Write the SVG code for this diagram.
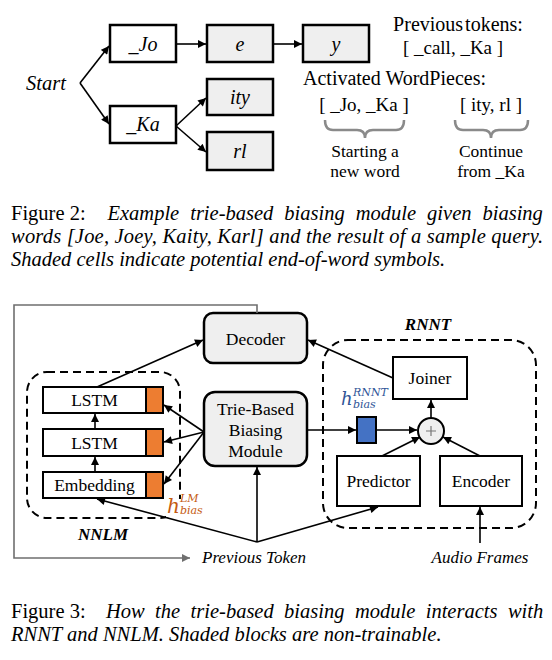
<svg xmlns="http://www.w3.org/2000/svg" width="552" height="660" viewBox="0 0 552 660" font-family="'Liberation Serif', 'Times New Roman', serif">
<defs>
<style>
.t{font-family:"Liberation Serif","Times New Roman",serif;fill:#000}
.i{font-style:italic}
.b{font-weight:bold}
.box{fill:#fff;stroke:#000;stroke-width:2.5}
.sh{fill:#efefef;stroke:#000;stroke-width:2.5}
.ln{fill:none;stroke:#000;stroke-width:1.6;marker-end:url(#ah)}
.gl{fill:none;stroke:#6f6f6f;stroke-width:1.6;marker-end:url(#ahg)}
.dash{fill:none;stroke:#000;stroke-width:2;stroke-dasharray:8 5}
.brace{fill:none;stroke:#8a8a8a;stroke-width:2.5}
.m{font-family:"DejaVu Serif",serif;font-style:italic}
</style>
<marker id="ah" viewBox="0 0 10 10" refX="10" refY="5" markerWidth="9" markerHeight="8" markerUnits="userSpaceOnUse" orient="auto"><path d="M0,0 L10,5 L0,10 z" fill="#000"/></marker>
<marker id="ahg" viewBox="0 0 10 10" refX="10" refY="5" markerWidth="9" markerHeight="8" markerUnits="userSpaceOnUse" orient="auto"><path d="M0,0 L10,5 L0,10 z" fill="#6f6f6f"/></marker>
</defs>
<rect width="552" height="660" fill="#fff"/>

<!-- Figure 2 trie -->
<g id="start"><text class="t i" x="26" y="90" font-size="20.5">Start</text></g>
<g id="node-jo"><rect class="box" x="110" y="25" width="66" height="37"/><text class="t i" x="143" y="51" font-size="20" text-anchor="middle">_Jo</text></g>
<g id="node-e"><rect class="sh" x="207" y="25" width="66" height="37"/><text class="t i" x="240" y="51" font-size="20" text-anchor="middle">e</text></g>
<g id="node-y"><rect class="sh" x="303" y="25" width="66" height="37"/><text class="t i" x="336" y="51" font-size="20" text-anchor="middle">y</text></g>
<g id="node-ka"><rect class="box" x="110" y="106" width="66" height="37"/><text class="t i" x="143" y="131" font-size="20" text-anchor="middle">_Ka</text></g>
<g id="node-ity"><rect class="sh" x="207" y="79" width="66" height="36"/><text class="t i" x="240" y="104" font-size="20" text-anchor="middle">ity</text></g>
<g id="node-rl"><rect class="sh" x="207" y="132" width="66" height="38"/><text class="t i" x="240" y="158" font-size="20" text-anchor="middle">rl</text></g>
<g id="trie-connectors">
<path class="ln" d="M80,83 L109,46"/>
<path class="ln" d="M80,83 L109,124"/>
<path class="ln" d="M176,44 H206"/>
<path class="ln" d="M273,44 H302"/>
<path class="ln" d="M176,126 L206,98"/>
<path class="ln" d="M176,126 L206,152"/>
</g>
<g id="legend">
<text class="t" x="458" y="31" font-size="20" text-anchor="middle" word-spacing="-3">Previous tokens:</text>
<text class="t" x="453" y="54" font-size="19" text-anchor="middle">[ _call, _Ka ]</text>
<text class="t" x="303" y="85" font-size="20">Activated WordPieces:</text>
<text class="t" x="364" y="111" font-size="19" text-anchor="middle">[ _Jo, _Ka ]</text>
<text class="t" x="491" y="111" font-size="19" text-anchor="middle">[ ity, rl ]</text>
<path class="brace" d="M325,120 Q325,130 333,130 H357 Q365,130 365,138 Q365,130 373,130 H396 Q404,130 404,120"/>
<path class="brace" d="M455,120 Q455,130 463,130 H483 Q491,130 491,138 Q491,130 499,130 H520 Q528,130 528,120"/>
<text class="t" x="365" y="157" font-size="17.5" text-anchor="middle">Starting a</text>
<text class="t" x="365" y="177" font-size="17.5" text-anchor="middle">new word</text>
<text class="t" x="491" y="157" font-size="17.5" text-anchor="middle">Continue</text>
<text class="t" x="491" y="177" font-size="17.5" text-anchor="middle">from _Ka</text>
</g>

<g id="caption2" font-size="20.5">
<text class="t" y="220"><tspan x="11">Figure 2:</tspan><tspan class="i" x="107.5">Example</tspan><tspan class="i" x="190.2">trie-based</tspan><tspan class="i" x="284.3">biasing</tspan><tspan class="i" x="355.7">module</tspan><tspan class="i" x="427.1">given</tspan><tspan class="i" x="482.5">biasing</tspan></text>
<text class="t i" x="11" y="243" textLength="532" lengthAdjust="spacing">words [Joe, Joey, Kaity, Karl] and the result of a sample query.</text>
<text class="t i" x="11" y="266">Shaded cells indicate potential end-of-word symbols.</text>
</g>

<!-- Figure 3 -->
<g id="nnlm-group">
<rect class="dash" x="27" y="372" width="153" height="146" rx="20"/>
<text class="t i b" x="103" y="540" font-size="17" text-anchor="middle">NNLM</text>
</g>
<g id="rnnt-group">
<rect class="dash" x="323" y="340" width="213" height="188" rx="25"/>
<text class="t i b" x="428" y="330" font-size="17" text-anchor="middle">RNNT</text>
</g>
<g id="decoder"><rect class="sh" x="204" y="313" width="103" height="50" rx="9"/><text class="t" x="255.5" y="345" font-size="17.5" text-anchor="middle">Decoder</text></g>
<g id="trie-module"><rect class="sh" x="204" y="392" width="103" height="74" rx="11"/>
<text class="t" x="255.5" y="415" font-size="17.5" text-anchor="middle">Trie-Based</text>
<text class="t" x="255.5" y="436" font-size="17.5" text-anchor="middle">Biasing</text>
<text class="t" x="255.5" y="457" font-size="17.5" text-anchor="middle">Module</text></g>
<g id="lstm1"><rect x="43" y="387" width="120" height="26" fill="#fff" stroke="#000" stroke-width="2"/><rect x="146" y="387" width="17" height="26" fill="#ed7d31" stroke="#000" stroke-width="2"/><text class="t" x="94.5" y="406" font-size="17.5" text-anchor="middle">LSTM</text></g>
<g id="lstm2"><rect x="43" y="429" width="120" height="27" fill="#fff" stroke="#000" stroke-width="2"/><rect x="146" y="429" width="17" height="27" fill="#ed7d31" stroke="#000" stroke-width="2"/><text class="t" x="94.5" y="449" font-size="17.5" text-anchor="middle">LSTM</text></g>
<g id="embedding"><rect x="43" y="472" width="120" height="26" fill="#fff" stroke="#000" stroke-width="2"/><rect x="146" y="472" width="17" height="26" fill="#ed7d31" stroke="#000" stroke-width="2"/><text class="t" x="94.5" y="491" font-size="17.5" text-anchor="middle">Embedding</text></g>
<g id="h-lm"><rect x="166" y="499" width="40" height="18" fill="#fff"/><text class="m" x="167" y="513" font-size="20" fill="#c55a11">h</text><text class="m" x="180" y="502" font-size="11" fill="#c55a11">LM</text><text class="m" x="180" y="514" font-size="11" fill="#c55a11">bias</text></g>
<g id="joiner"><rect x="393" y="357" width="74" height="42" fill="#fff" stroke="#000" stroke-width="2"/><text class="t" x="430" y="384" font-size="17.5" text-anchor="middle">Joiner</text></g>
<g id="sum"><circle cx="431" cy="431" r="13" fill="#efefef" stroke="#000" stroke-width="2"/><path d="M426,431 H436 M431,426 V436" stroke="#777" stroke-width="1.2"/></g>
<g id="h-rnnt"><rect x="357" y="417" width="19" height="26" fill="#4472c4" stroke="#000" stroke-width="2"/><text class="m" x="341" y="405" font-size="18" fill="#2f5597">h</text><text class="m" x="353" y="396" font-size="11" fill="#2f5597">RNNT</text><text class="m" x="353" y="408" font-size="11" fill="#2f5597">bias</text></g>
<g id="predictor"><rect x="337" y="456" width="83" height="50" fill="#fff" stroke="#000" stroke-width="2"/><text class="t" x="378.5" y="487" font-size="17.5" text-anchor="middle">Predictor</text></g>
<g id="encoder"><rect x="440" y="456" width="82" height="50" fill="#fff" stroke="#000" stroke-width="2"/><text class="t" x="481" y="487" font-size="17.5" text-anchor="middle">Encoder</text></g>
<g id="inputs">
<text class="t i" x="202" y="563" font-size="17">Previous Token</text>
<text class="t i" x="480" y="563" font-size="17" text-anchor="middle">Audio Frames</text>
</g>
<g id="connectors">
<path class="gl" d="M257,313 V305 H14 V558 H190"/>
<path class="ln" d="M97,387 L203,340"/>
<path class="ln" d="M204,432 L164,405"/>
<path class="ln" d="M204,432 L164,442"/>
<path class="ln" d="M204,432 L164,484"/>
<path class="ln" d="M95,472 V457"/>
<path class="ln" d="M95,429 V414"/>
<path class="ln" d="M257,542 V467"/>
<path class="ln" d="M257,542 L97,499"/>
<path class="ln" d="M257,542 L378,507"/>
<path class="ln" d="M307,430 H356"/>
<path class="ln" d="M376,430 H417"/>
<path class="ln" d="M382,456 L420,437"/>
<path class="ln" d="M480,456 L443,437"/>
<path class="ln" d="M431,418 V400"/>
<path class="ln" d="M393,378 L308,340"/>
<path class="ln" d="M480,543 V507"/>
</g>

<g id="caption3" font-size="20.5">
<text class="t" y="618"><tspan x="11">Figure 3:</tspan><tspan class="i" x="106">How</tspan><tspan class="i" x="155.1">the</tspan><tspan class="i" x="190.6">trie-based</tspan><tspan class="i" x="284.1">biasing</tspan><tspan class="i" x="354.9">module</tspan><tspan class="i" x="425.7">interacts</tspan><tspan class="i" x="507.9">with</tspan></text>
<text class="t i" x="11" y="641">RNNT and NNLM. Shaded blocks are non-trainable.</text>
</g>
</svg>
